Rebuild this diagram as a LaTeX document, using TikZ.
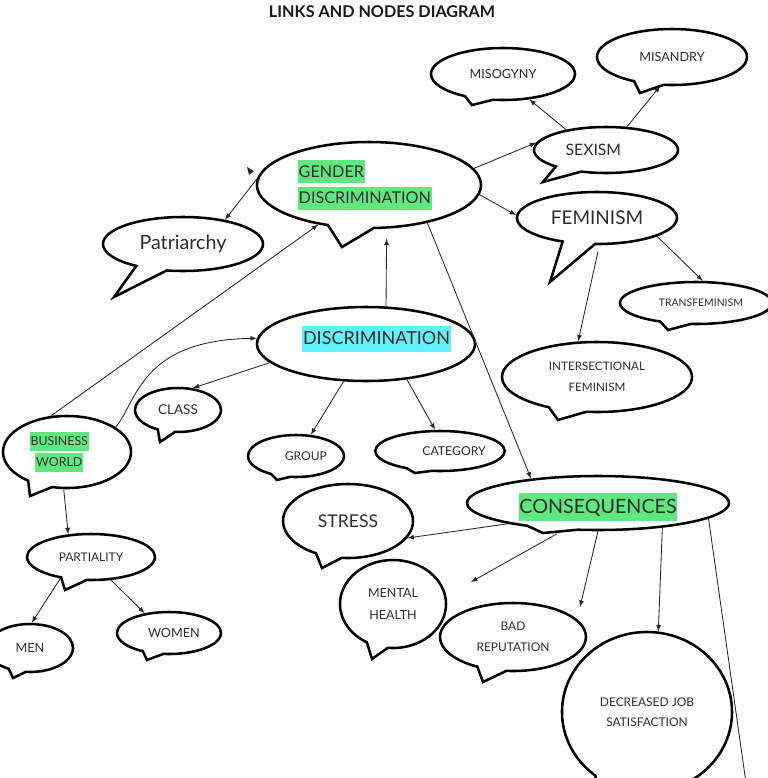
\documentclass[tikz,border=0pt]{standalone}
\usepackage{fontspec}
\setmainfont{Lato}
\usepackage{xcolor}
\usetikzlibrary{positioning, arrows, shapes.geometric, shapes.callouts}

\definecolor{textgray}{RGB}{45,45,45}
\definecolor{markgreen}{RGB}{96,232,128}
\definecolor{markcyan}{RGB}{100,242,250}

\newcommand{\markstrut}{\rule[-0.33em]{0pt}{1.33em}}
\newcommand{\greenmark}[1]{{\setlength{\fboxsep}{0.6pt}\colorbox{markgreen}{\markstrut #1}}}
\newcommand{\cyanmark}[1]{{\setlength{\fboxsep}{0.6pt}\colorbox{markcyan}{\markstrut #1}}}

\tikzset{
	bubble/.style={ellipse callout, draw, line width=1.8pt, inner sep=0pt, callout pointer arc=24, text=textgray, align=center},
	link/.style={-latex, line width=0.6pt, black!85}
}

\begin{document}
\begin{tikzpicture}[x=0.025cm, y=-0.025cm]
		
		\useasboundingbox (0,0) rectangle (768,778);
		
		%Title
		\node (title) at (382,12) [font=\fontsize{11.5}{13}\selectfont\bfseries, text=black!90]{LINKS AND NODES DIAGRAM};
		
		%Nodes in the upper part of the scheme
		\node (gender) at (369,185) [bubble, minimum width=5.6cm, minimum height=2.15cm, 
		callout absolute pointer={(342,247)}, align=left, font=\fontsize{11.5}{19}\selectfont]
		{\greenmark{GENDER}\\\greenmark{DISCRIMINATION}\hspace*{6pt}};
		
		\node (patriarchy) at (183,244) [bubble, minimum width=4cm, minimum height=1.35cm, 
		callout absolute pointer={(114,297)}, font=\fontsize{14}{16}\selectfont]{Patriarchy};
		
		\node (sexism) at (606,150) [bubble, minimum width=3.6cm, minimum height=1.15cm, 
		callout absolute pointer={(543,182)}, font=\fontsize{11.2}{13}\selectfont]{SEXISM\hspace*{18pt}};
		
		\node (misogyny) at (503,74) [bubble, minimum width=3.6cm, minimum height=1.3cm, 
		callout absolute pointer={(472,105)}, font=\fontsize{9}{10}\selectfont]{MISOGYNY};
		
		\node (misandry) at (672,57) [bubble, minimum width=3.75cm, minimum height=1.4cm, 
		callout absolute pointer={(640,93)}, font=\fontsize{9}{10}\selectfont]{MISANDRY};
		
		\node (feminism) at (597,218) [bubble, minimum width=4cm, minimum height=1.3cm, 
		callout absolute pointer={(550,282)}, font=\fontsize{13.5}{15}\selectfont]{FEMINISM};
		
		\node (transfeminism) at (696,303) [bubble, minimum width=3.8cm, minimum height=1.05cm, 
		callout absolute pointer={(668,330)}, font=\fontsize{7.4}{9}\selectfont]{\hspace*{7pt}TRANSFEMINISM};
		
		\node (intersectional) at (597,377) [bubble, minimum width=4.75cm, minimum height=1.75cm, 
		callout absolute pointer={(558,420)}, font=\fontsize{8.3}{15}\selectfont]{INTERSECTIONAL\\FEMINISM};
		
		%Nodes in the middle part of the scheme
		\node (discrimination) at (366,344) [ellipse, draw, line width=1.8pt, inner sep=0pt, 
		minimum width=5.45cm, minimum height=1.85cm, font=\fontsize{12.8}{14}\selectfont, 
		text=textgray, text depth=12pt]{\makebox[0pt]{\hspace*{15pt}\cyanmark{DISCRIMINATION}}};
		
		\node (class) at (178,410) [bubble, minimum width=2.15cm, minimum height=1.1cm, 
		callout absolute pointer={(160,442)}, font=\fontsize{9.6}{11}\selectfont]{CLASS};
		
		\node (business) at (67,452) [bubble, minimum width=3.2cm, minimum height=1.8cm, 
		callout absolute pointer={(30,496)}, font=\fontsize{8.8}{15}\selectfont]
		{\greenmark{BUSINESS}\hspace*{11pt}\\\greenmark{WORLD}\hspace*{11pt}};
		
		\node (group) at (296,456) [bubble, minimum width=2.4cm, minimum height=1.05cm, 
		callout absolute pointer={(277,480)}, font=\fontsize{8.6}{10}\selectfont]{\hspace*{14pt}GROUP};
		
		\node (category) at (440,451) [bubble, minimum width=3.1cm, minimum height=1cm, 
		callout absolute pointer={(415,473)}, font=\fontsize{8.7}{10}\selectfont]{\hspace*{20pt}CATEGORY};
		
		%Nodes in the lower part of the scheme
		\node (partiality) at (91,557) [bubble, minimum width=3.2cm, minimum height=1.15cm, 
		callout absolute pointer={(65,590)}, font=\fontsize{8.5}{10}\selectfont]{PARTIALITY};
		
		\node (men) at (30,648) [bubble, minimum width=2.15cm, minimum height=1.2cm, 
		callout absolute pointer={(13,678)}, font=\fontsize{9}{10}\selectfont]{MEN};
		
		\node (women) at (169,633) [bubble, minimum width=2.6cm, minimum height=1.05cm, 
		callout absolute pointer={(147,660)}, font=\fontsize{9}{10}\selectfont]{\hspace*{7pt}WOMEN};
		
		\node (consequences) at (598,503) [bubble, minimum width=6.55cm, minimum height=1.35cm, 
		callout absolute pointer={(543,533)}, font=\fontsize{14}{16}\selectfont, text depth=0pt]{\greenmark{CONSEQUENCES}};
		
		\node (stress) at (348,521) [bubble, minimum width=3.25cm, minimum height=1.85cm, 
		callout absolute pointer={(322,568)}, font=\fontsize{12.5}{14}\selectfont]{STRESS};
		
		\node (mental) at (393,604) [bubble, minimum width=2.65cm, minimum height=2.2cm, 
		callout absolute pointer={(372,659)}, font=\fontsize{8.9}{15}\selectfont]{MENTAL\\HEALTH};
		
		\node (reputation) at (513,637) [bubble, minimum width=3.65cm, minimum height=1.7cm, 
		callout absolute pointer={(483,682)}, font=\fontsize{8.5}{15}\selectfont]{BAD\\REPUTATION};
		
		\node (satisfaction) at (647,712) [bubble, minimum width=4.25cm, minimum height=4cm, 
		callout absolute pointer={(600,805)}, font=\fontsize{8.5}{14.5}\selectfont]{DECREASED JOB\\SATISFACTION};
		
		%Free ends
		\coordinate (looseEnd) at (471,582);
		\coordinate (reputationEnd) at (580,607);
		\coordinate (bottomEnd) at (747,790);
		
		%Links among blocks
		\draw[link] (gender.9) -- (sexism.174);
		\draw[link] (gender.-5) -- (feminism.178);
		\draw[link] (gender.177) -- (patriarchy.30);
		\fill[black!85] (247,167) -- (254,171) -- (249,175) -- cycle;
		
		\draw[link] (sexism.153) -- (misogyny.-44);
		\draw[link] (sexism.48) -- (misandry.-112);
		
		\draw[link] (feminism.-17) -- (transfeminism.73);
		\draw[link, shorten <=5pt] (feminism.-85) -- (intersectional.118);
		
		\draw[link, shorten >=7pt] (discrimination.62) -- (gender.-68);
		\draw[link] (gender.-33) -- (consequences.160);
		
		\draw[link] (business.114) -- (gender.-142);
		\draw[link] (business.27) .. controls (137,402) and (140,340) .. (discrimination.177);
		
		\draw[link] (discrimination.-169) -- (class.56);
		\draw[link] (discrimination.-121) -- (group.55);
		\draw[link] (discrimination.-41) -- (category.103);
		
		\draw[link] (business.-95) -- (partiality.135);
		\draw[link] (partiality.-145) -- (men.86);
		\draw[link] (partiality.-49) -- (women.141);
		
		\draw[link] (consequences.-167) -- (stress.-16);
		\draw[link, shorten <=5pt] (consequences.-142) -- (looseEnd);
		\draw[link] (consequences.-90) -- (reputationEnd);
		\draw[link] (consequences.-21) -- (satisfaction.82);
		\draw[line width=0.6pt, black!85] (consequences.-8) -- (bottomEnd);
		
\end{tikzpicture}
\end{document}
